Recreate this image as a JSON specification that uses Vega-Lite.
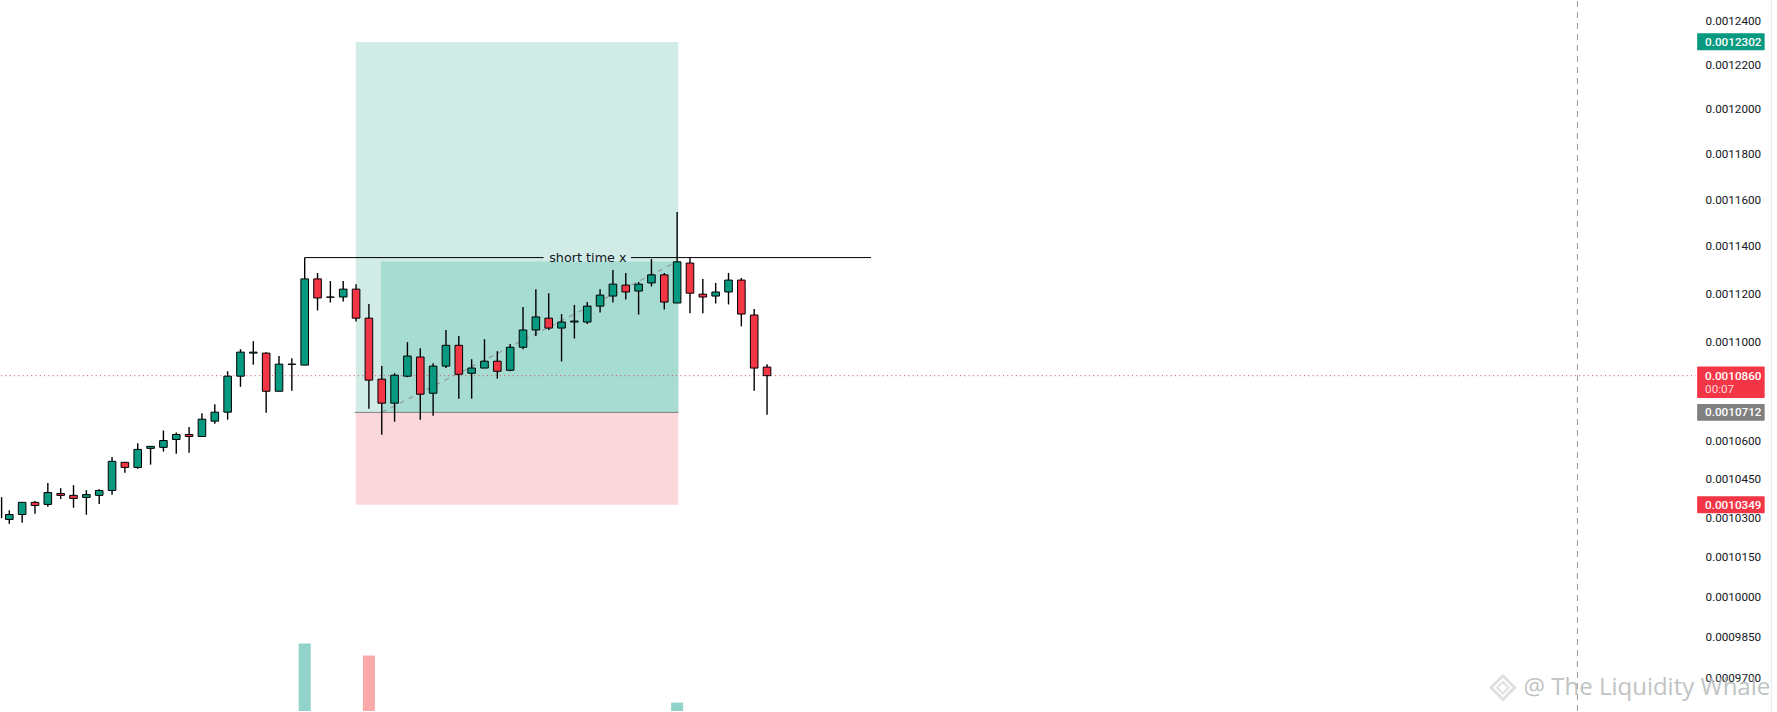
{
"$schema":"https://vega.github.io/schema/vega-lite/v6.json",
"width":1777,"height":712,"padding":0,"autosize":{"type":"fit","contains":"padding"},
"background":"#ffffff",
"config":{"view":{"stroke":null}},
"datasets":{
"candles":[
{"bar":0,"o":0.0010292,"h":0.0010327,"l":0.0010275,"c":0.0010311,"dir":"up"},
{"bar":1,"o":0.0010311,"h":0.0010358,"l":0.0010279,"c":0.0010358,"dir":"up"},
{"bar":2,"o":0.0010358,"h":0.0010363,"l":0.0010314,"c":0.0010346,"dir":"down"},
{"bar":3,"o":0.0010350,"h":0.0010433,"l":0.0010341,"c":0.0010396,"dir":"up"},
{"bar":4,"o":0.0010392,"h":0.0010413,"l":0.0010371,"c":0.0010385,"dir":"down"},
{"bar":5,"o":0.0010385,"h":0.0010425,"l":0.0010337,"c":0.0010373,"dir":"down"},
{"bar":6,"o":0.0010377,"h":0.0010405,"l":0.0010310,"c":0.0010388,"dir":"up"},
{"bar":7,"o":0.0010385,"h":0.0010409,"l":0.0010352,"c":0.0010404,"dir":"up"},
{"bar":8,"o":0.0010404,"h":0.0010535,"l":0.0010387,"c":0.0010518,"dir":"up"},
{"bar":9,"o":0.0010514,"h":0.0010514,"l":0.0010473,"c":0.0010494,"dir":"down"},
{"bar":10,"o":0.0010494,"h":0.0010589,"l":0.0010489,"c":0.0010565,"dir":"up"},
{"bar":11,"o":0.0010569,"h":0.0010577,"l":0.0010505,"c":0.0010577,"dir":"up"},
{"bar":12,"o":0.0010573,"h":0.0010640,"l":0.0010556,"c":0.0010600,"dir":"up"},
{"bar":13,"o":0.0010604,"h":0.0010632,"l":0.0010548,"c":0.0010624,"dir":"up"},
{"bar":14,"o":0.0010624,"h":0.0010654,"l":0.0010552,"c":0.0010616,"dir":"down"},
{"bar":15,"o":0.0010616,"h":0.0010709,"l":0.0010616,"c":0.0010685,"dir":"up"},
{"bar":16,"o":0.0010677,"h":0.0010745,"l":0.0010667,"c":0.0010713,"dir":"up"},
{"bar":17,"o":0.0010713,"h":0.0010878,"l":0.0010683,"c":0.0010858,"dir":"up"},
{"bar":18,"o":0.0010858,"h":0.0010968,"l":0.0010815,"c":0.0010956,"dir":"up"},
{"bar":19,"o":0.0010952,"h":0.0011001,"l":0.0010905,"c":0.0010956,"dir":"up"},
{"bar":20,"o":0.0010952,"h":0.0010956,"l":0.0010711,"c":0.0010797,"dir":"down"},
{"bar":21,"o":0.0010797,"h":0.0010940,"l":0.0010797,"c":0.0010907,"dir":"up"},
{"bar":22,"o":0.0010906,"h":0.0010931,"l":0.0010799,"c":0.0010907,"dir":"up"},
{"bar":23,"o":0.0010903,"h":0.0011350,"l":0.0010903,"c":0.0011260,"dir":"up"},
{"bar":24,"o":0.0011260,"h":0.0011285,"l":0.0011128,"c":0.0011180,"dir":"down"},
{"bar":25,"o":0.0011184,"h":0.0011251,"l":0.0011161,"c":0.0011183,"dir":"down"},
{"bar":26,"o":0.0011184,"h":0.0011251,"l":0.0011165,"c":0.0011217,"dir":"up"},
{"bar":27,"o":0.0011217,"h":0.0011238,"l":0.0011082,"c":0.0011096,"dir":"down"},
{"bar":28,"o":0.0011096,"h":0.0011155,"l":0.0010727,"c":0.0010842,"dir":"down"},
{"bar":29,"o":0.0010846,"h":0.0010899,"l":0.0010623,"c":0.0010749,"dir":"down"},
{"bar":30,"o":0.0010749,"h":0.0010870,"l":0.0010675,"c":0.0010862,"dir":"up"},
{"bar":31,"o":0.0010858,"h":0.0010997,"l":0.0010854,"c":0.0010940,"dir":"up"},
{"bar":32,"o":0.0010936,"h":0.0010972,"l":0.0010683,"c":0.0010785,"dir":"down"},
{"bar":33,"o":0.0010789,"h":0.0010911,"l":0.0010699,"c":0.0010899,"dir":"up"},
{"bar":34,"o":0.0010899,"h":0.0011047,"l":0.0010891,"c":0.0010984,"dir":"up"},
{"bar":35,"o":0.0010984,"h":0.0011022,"l":0.0010767,"c":0.0010866,"dir":"down"},
{"bar":36,"o":0.0010870,"h":0.0010927,"l":0.0010767,"c":0.0010891,"dir":"up"},
{"bar":37,"o":0.0010891,"h":0.0011009,"l":0.0010891,"c":0.0010919,"dir":"up"},
{"bar":38,"o":0.0010919,"h":0.0010960,"l":0.0010848,"c":0.0010878,"dir":"down"},
{"bar":39,"o":0.0010882,"h":0.0010989,"l":0.0010878,"c":0.0010976,"dir":"up"},
{"bar":40,"o":0.0010976,"h":0.0011142,"l":0.0010968,"c":0.0011047,"dir":"up"},
{"bar":41,"o":0.0011047,"h":0.0011217,"l":0.0011022,"c":0.0011101,"dir":"up"},
{"bar":42,"o":0.0011096,"h":0.0011200,"l":0.0011047,"c":0.0011055,"dir":"down"},
{"bar":43,"o":0.0011055,"h":0.0011113,"l":0.0010918,"c":0.0011080,"dir":"up"},
{"bar":44,"o":0.0011080,"h":0.0011151,"l":0.0011012,"c":0.0011084,"dir":"up"},
{"bar":45,"o":0.0011080,"h":0.0011163,"l":0.0011072,"c":0.0011146,"dir":"up"},
{"bar":46,"o":0.0011146,"h":0.0011217,"l":0.0011120,"c":0.0011192,"dir":"up"},
{"bar":47,"o":0.0011188,"h":0.0011298,"l":0.0011161,"c":0.0011238,"dir":"up"},
{"bar":48,"o":0.0011234,"h":0.0011285,"l":0.0011174,"c":0.0011205,"dir":"down"},
{"bar":49,"o":0.0011209,"h":0.0011247,"l":0.0011111,"c":0.0011238,"dir":"up"},
{"bar":50,"o":0.0011243,"h":0.0011344,"l":0.0011228,"c":0.0011277,"dir":"up"},
{"bar":51,"o":0.0011277,"h":0.0011285,"l":0.0011132,"c":0.0011163,"dir":"down"},
{"bar":52,"o":0.0011159,"h":0.0011545,"l":0.0011159,"c":0.0011332,"dir":"up"},
{"bar":53,"o":0.0011327,"h":0.0011351,"l":0.0011116,"c":0.0011200,"dir":"down"},
{"bar":54,"o":0.0011196,"h":0.0011260,"l":0.0011116,"c":0.0011184,"dir":"down"},
{"bar":55,"o":0.0011188,"h":0.0011243,"l":0.0011157,"c":0.0011205,"dir":"up"},
{"bar":56,"o":0.0011205,"h":0.0011285,"l":0.0011153,"c":0.0011255,"dir":"up"},
{"bar":57,"o":0.0011255,"h":0.0011264,"l":0.0011062,"c":0.0011113,"dir":"down"},
{"bar":58,"o":0.0011109,"h":0.0011134,"l":0.0010799,"c":0.0010891,"dir":"down"},
{"bar":59,"o":0.0010895,"h":0.0010907,"l":0.0010703,"c":0.0010860,"dir":"down"}
],
"tags":[
{"bar":132.04,"p":0.0012302,"label":"0.0012302"},
{"bar":132.04,"p":0.0010712,"label":"0.0010712"},
{"bar":132.04,"p":0.0010349,"label":"0.0010349"},
{"bar":132.04,"p":0.0010860,"label":"0.0010860"}
]
},
"layer":[
{"data":{"values":[{"bar":26.98,"bar2":52.09,"p":0.0012302,"p2":0.0010712}]},
 "mark":{"type":"rect","color":"#d1ece6"},
 "encoding":{"x":{"field":"bar","type":"quantitative","axis":null,"scale":{"domain":[-0.257,137.25],"nice":false,"zero":false}},"x2":{"field":"bar2"},
 "y":{"field":"p","type":"quantitative","scale":{"type":"log","domain":[0.0009581,0.00124922],"nice":false,"zero":false},
  "axis":{"orient":"right","title":null,"domain":false,"ticks":false,"grid":false,"labelPadding":-72,"labelAlign":"left","labelFont":"Roboto","labelFontSize":11.7,"labelColor":"#131722","labelOverlap":false,"labelBound":false,"labelFlush":false,"format":".7f","values":[0.00124,0.00122,0.0012,0.00118,0.00116,0.00114,0.00112,0.0011,0.00106,0.001045,0.00103,0.001015,0.001,0.000985,0.00097]}},"y2":{"field":"p2"}}},
{"data":{"values":[{"bar":26.98,"bar2":52.09,"p":0.0010712,"p2":0.0010349}]},
 "mark":{"type":"rect","color":"#fbd7db"},
 "encoding":{"x":{"field":"bar","type":"quantitative","axis":null,"scale":{"domain":[-0.257,137.25],"nice":false,"zero":false}},"x2":{"field":"bar2"},
 "y":{"field":"p","type":"quantitative","axis":null,"scale":{"type":"log","domain":[0.0009581,0.00124922],"nice":false,"zero":false}},"y2":{"field":"p2"}}},
{"data":{"values":[{"bar":28.94,"bar2":52.09,"p":0.0011333,"p2":0.0010712}]},
 "mark":{"type":"rect","color":"#a7dcd2"},
 "encoding":{"x":{"field":"bar","type":"quantitative","axis":null,"scale":{"domain":[-0.257,137.25],"nice":false,"zero":false}},"x2":{"field":"bar2"},
 "y":{"field":"p","type":"quantitative","axis":null,"scale":{"type":"log","domain":[0.0009581,0.00124922],"nice":false,"zero":false}},"y2":{"field":"p2"}}},
{"data":{"values":[{"bar":29.02,"p":0.0010712},{"bar":52.0,"p":0.0011333}]},
 "mark":{"type":"line","color":"#8f9a98","strokeWidth":1.2,"strokeDash":[5,5]},
 "encoding":{"x":{"field":"bar","type":"quantitative","axis":null,"scale":{"domain":[-0.257,137.25],"nice":false,"zero":false}},
 "y":{"field":"p","type":"quantitative","axis":null,"scale":{"type":"log","domain":[0.0009581,0.00124922],"nice":false,"zero":false}}}},
{"data":{"values":[{"bar":26.88,"bar2":52.09,"p":0.0010712}]},
 "mark":{"type":"rule","color":"#808080","strokeWidth":1},
 "encoding":{"x":{"field":"bar","type":"quantitative","axis":null,"scale":{"domain":[-0.257,137.25],"nice":false,"zero":false}},"x2":{"field":"bar2"},
 "y":{"field":"p","type":"quantitative","axis":null,"scale":{"type":"log","domain":[0.0009581,0.00124922],"nice":false,"zero":false}}}},
{"data":{"values":[{"bar":-0.64,"bar2":131.3,"p":0.001086}]},
 "mark":{"type":"rule","color":"#d9404f","strokeWidth":1,"strokeDash":[1,3.3]},
 "encoding":{"x":{"field":"bar","type":"quantitative","axis":null,"scale":{"domain":[-0.257,137.25],"nice":false,"zero":false}},"x2":{"field":"bar2"},
 "y":{"field":"p","type":"quantitative","axis":null,"scale":{"type":"log","domain":[0.0009581,0.00124922],"nice":false,"zero":false}}}},
{"data":{"values":[{"bar":122.1}]},
 "mark":{"type":"rule","color":"#9a9a9a","strokeWidth":1,"strokeDash":[6,5]},
 "encoding":{"x":{"field":"bar","type":"quantitative","axis":null,"scale":{"domain":[-0.257,137.25],"nice":false,"zero":false}}}},
{"data":{"values":[{"bar":137.2}]},
 "mark":{"type":"rule","color":"#e6e8ee","strokeWidth":1},
 "encoding":{"x":{"field":"bar","type":"quantitative","axis":null,"scale":{"domain":[-0.257,137.25],"nice":false,"zero":false}}}},
{"data":{"values":[{"bar":23,"vol":674,"dir":"up"},{"bar":28,"vol":554,"dir":"down"},{"bar":52,"vol":84,"dir":"up"}]},
 "mark":{"type":"bar","size":12},
 "encoding":{"x":{"field":"bar","type":"quantitative","axis":null,"scale":{"domain":[-0.257,137.25],"nice":false,"zero":false}},
 "y":{"field":"vol","type":"quantitative","axis":null,"scale":{"domain":[0,7090],"nice":false}},
 "color":{"field":"dir","type":"nominal","legend":null,"scale":{"domain":["up","down"],"range":["#91d3cb","#faa9a9"]}}}},
{"data":{"values":[{"bar":-0.6,"h":0.0010378,"l":0.0010297}]},
 "mark":{"type":"rule","color":"#000000","strokeWidth":1.4},
 "encoding":{"x":{"field":"bar","type":"quantitative","axis":null,"scale":{"domain":[-0.257,137.25],"nice":false,"zero":false}},
 "y":{"field":"h","type":"quantitative","axis":null,"scale":{"type":"log","domain":[0.0009581,0.00124922],"nice":false,"zero":false}},"y2":{"field":"l"}}},
{"data":{"name":"candles"},
 "mark":{"type":"rule","color":"#000000","strokeWidth":1.4},
 "encoding":{"x":{"field":"bar","type":"quantitative","axis":null,"scale":{"domain":[-0.257,137.25],"nice":false,"zero":false}},
 "y":{"field":"h","type":"quantitative","axis":null,"scale":{"type":"log","domain":[0.0009581,0.00124922],"nice":false,"zero":false}},"y2":{"field":"l"}}},
{"data":{"name":"candles"},
 "mark":{"type":"bar","size":7.6,"stroke":"#000000","strokeWidth":1},
 "encoding":{"x":{"field":"bar","type":"quantitative","axis":null,"scale":{"domain":[-0.257,137.25],"nice":false,"zero":false}},
 "y":{"field":"o","type":"quantitative","axis":null,"scale":{"type":"log","domain":[0.0009581,0.00124922],"nice":false,"zero":false}},"y2":{"field":"c"},
 "fill":{"field":"dir","type":"nominal","legend":null,"scale":{"domain":["up","down"],"range":["#089981","#f23645"]}}}},
{"data":{"values":[{"bar":23.0,"bar2":41.6,"p":0.001135},{"bar":48.4,"bar2":67.1,"p":0.001135}]},
 "mark":{"type":"rule","color":"#000000","strokeWidth":1},
 "encoding":{"x":{"field":"bar","type":"quantitative","axis":null,"scale":{"domain":[-0.257,137.25],"nice":false,"zero":false}},"x2":{"field":"bar2"},
 "y":{"field":"p","type":"quantitative","axis":null,"scale":{"type":"log","domain":[0.0009581,0.00124922],"nice":false,"zero":false}}}},
{"data":{"values":[{"bar":45.05,"p":0.001135,"label":"short time x"}]},
 "mark":{"type":"text","font":"DejaVu Sans","fontSize":12.8,"color":"#131722","align":"center","baseline":"middle"},
 "encoding":{"x":{"field":"bar","type":"quantitative","axis":null,"scale":{"domain":[-0.257,137.25],"nice":false,"zero":false}},
 "y":{"field":"p","type":"quantitative","axis":null,"scale":{"type":"log","domain":[0.0009581,0.00124922],"nice":false,"zero":false}},"text":{"field":"label"}}},
{"data":{"values":[
 {"bar":131.42,"bar2":136.68,"p":0.0012342,"p2":0.0012264,"kind":"target"},
 {"bar":131.42,"bar2":136.68,"p":0.0010897,"p2":0.0010770,"kind":"last"},
 {"bar":131.42,"bar2":136.68,"p":0.0010746,"p2":0.0010679,"kind":"entry"},
 {"bar":131.42,"bar2":136.68,"p":0.0010382,"p2":0.0010316,"kind":"stop"}]},
 "mark":{"type":"rect","cornerRadius":1},
 "encoding":{"x":{"field":"bar","type":"quantitative","axis":null,"scale":{"domain":[-0.257,137.25],"nice":false,"zero":false}},"x2":{"field":"bar2"},
 "y":{"field":"p","type":"quantitative","axis":null,"scale":{"type":"log","domain":[0.0009581,0.00124922],"nice":false,"zero":false}},"y2":{"field":"p2"},
 "color":{"field":"kind","type":"nominal","legend":null,"scale":{"domain":["target","last","entry","stop"],"range":["#089981","#f23645","#808080","#f23645"]}}}},
{"data":{"name":"tags"},
 "mark":{"type":"text","font":"Roboto","fontSize":11.7,"fontWeight":500,"color":"#ffffff","align":"left","baseline":"middle"},
 "encoding":{"x":{"field":"bar","type":"quantitative","axis":null,"scale":{"domain":[-0.257,137.25],"nice":false,"zero":false}},
 "y":{"field":"p","type":"quantitative","axis":null,"scale":{"type":"log","domain":[0.0009581,0.00124922],"nice":false,"zero":false}},"text":{"field":"label"}}},
{"data":{"values":[{"bar":132.04,"p":0.0010806,"label":"00:07"}]},
 "mark":{"type":"text","font":"Roboto","fontSize":11.7,"color":"#ffd5d9","align":"left","baseline":"middle"},
 "encoding":{"x":{"field":"bar","type":"quantitative","axis":null,"scale":{"domain":[-0.257,137.25],"nice":false,"zero":false}},
 "y":{"field":"p","type":"quantitative","axis":null,"scale":{"type":"log","domain":[0.0009581,0.00124922],"nice":false,"zero":false}},"text":{"field":"label"}}},
{"data":{"values":[{"bar":116.3,"p":0.0009665}]},
 "mark":{"type":"point","shape":"diamond","size":560,"filled":false,"stroke":"#d2d5d4","strokeWidth":3},
 "encoding":{"x":{"field":"bar","type":"quantitative","axis":null,"scale":{"domain":[-0.257,137.25],"nice":false,"zero":false}},
 "y":{"field":"p","type":"quantitative","axis":null,"scale":{"type":"log","domain":[0.0009581,0.00124922],"nice":false,"zero":false}}}},
{"data":{"values":[{"bar":116.3,"p":0.0009665}]},
 "mark":{"type":"point","shape":"diamond","size":130,"filled":false,"stroke":"#d2d5d4","strokeWidth":2},
 "encoding":{"x":{"field":"bar","type":"quantitative","axis":null,"scale":{"domain":[-0.257,137.25],"nice":false,"zero":false}},
 "y":{"field":"p","type":"quantitative","axis":null,"scale":{"type":"log","domain":[0.0009581,0.00124922],"nice":false,"zero":false}}}},
{"data":{"values":[{"bar":117.9,"p":0.0009665,"label":"@ The Liquidity Whale"}]},
 "mark":{"type":"text","font":"Open Sans","fontSize":24,"color":"#b5b9b9","opacity":0.85,"align":"left","baseline":"middle"},
 "encoding":{"x":{"field":"bar","type":"quantitative","axis":null,"scale":{"domain":[-0.257,137.25],"nice":false,"zero":false}},
 "y":{"field":"p","type":"quantitative","axis":null,"scale":{"type":"log","domain":[0.0009581,0.00124922],"nice":false,"zero":false}},"text":{"field":"label"}}}
],
"resolve":{"scale":{"y":"independent","color":"independent","fill":"independent"},"axis":{"y":"independent"}}
}
